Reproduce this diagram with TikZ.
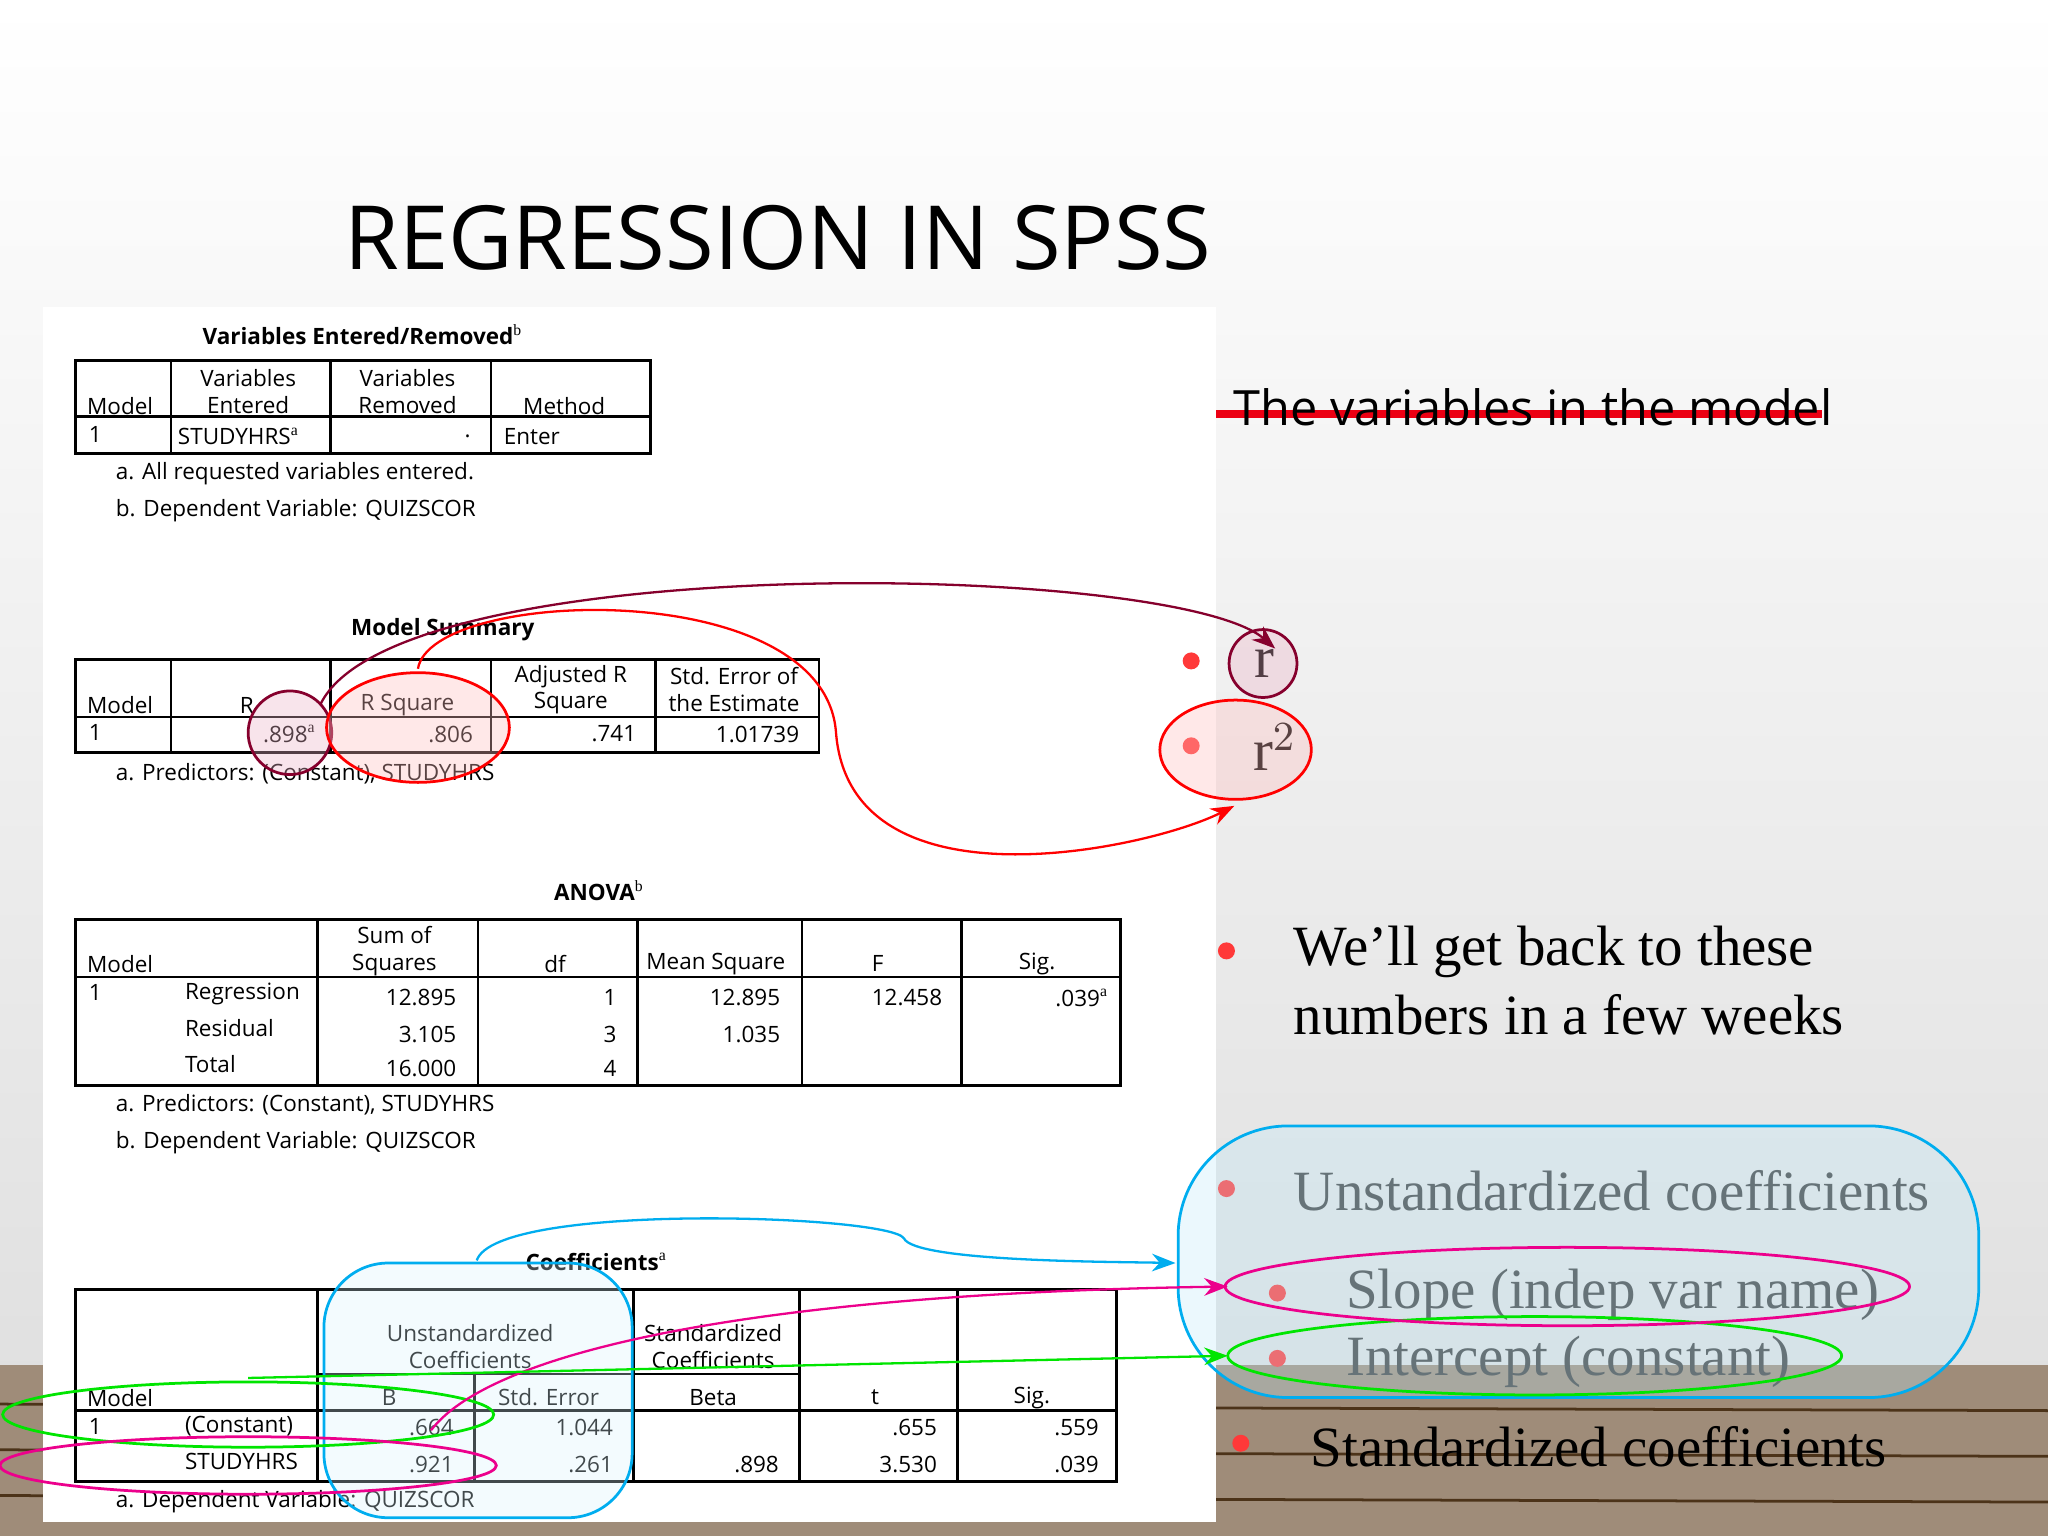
\documentclass[tikz,border=0pt]{standalone}
\usepackage{fontspec}
\setmainfont{Liberation Serif}
\newfontfamily\sans{Open Sans}
\usetikzlibrary{arrows.meta,shapes.geometric}
\begin{document}
\begin{tikzpicture}[x=0.1mm,y=-0.1mm,
 tb/.style={font=\sans\fontsize{4.9}{5.8}\selectfont,inner sep=0pt},
 bul/.style={circle,fill=red!70!pink,inner sep=0pt,minimum size=1.3mm},
 rt/.style={font=\fontsize{12.4}{15}\selectfont,inner sep=0pt,anchor=west},
 arr/.style={line width=0.5pt,-{Stealth[length=1.8mm]}}]
\useasboundingbox (0,0) rectangle (1568,1176);
\shade[top color=white,bottom color=black!12] (0,0) rectangle (1568,1045);
\fill[brown!50!black!60] (0,1045) rectangle (1568,1176);
\foreach \y in {1075,1110,1145} \draw[brown!40!black,line width=0.6pt] (0,\y) -- (1568,\y+5);
\node[font=\sans\fontsize{19.3}{23}\selectfont,anchor=west,inner sep=0pt] (title) at (263,182) {REGRESSION IN SPSS};
\fill[white] (33,235) rectangle (931,1165);
% table 1
\node[tb,font=\sans\bfseries\fontsize{4.9}{5.8}\selectfont] (t1) at (278,256) {Variables Entered/Removed$^{\mathrm b}$};
\draw[line width=0.6pt] (58,276) rectangle (498,347) (58,319) -- (498,319) (131,276)--(131,347) (253,276)--(253,347) (376,276)--(376,347);
\node[tb] (a1) at (92,311) {Model};
\node[tb,align=center] (a2) at (190,300) {Variables\\Entered};
\node[tb,align=center] (a3) at (312,300) {Variables\\Removed};
\node[tb] (a4) at (432,311) {Method};
\node[tb] (a5) at (73,333) {1};
\node[tb] (a6) at (183,334) {STUDYHRS$^{\mathrm a}$};
\node[tb] (a7) at (358,334) {.};
\node[tb,anchor=west] (a8) at (385,334) {Enter};
\node[tb,anchor=west] (a9) at (88,363) {a. All requested variables entered.};
\node[tb,anchor=west] (a10) at (88,391) {b. Dependent Variable: QUIZSCOR};
% table 2
\node[tb,font=\sans\bfseries\fontsize{4.9}{5.8}\selectfont] (t2) at (339,482) {Model Summary};
\draw[line width=0.6pt] (58,505) rectangle (627,576) (58,549) -- (627,549) (131,505)--(131,576) (253,505)--(253,576) (376,505)--(376,576) (502,505)--(502,576);
\node[tb] (b1) at (92,540) {Model};
\node[tb] (b2) at (189,540) {R};
\node[tb] (b3) at (312,540) {R Square};
\node[tb,align=center] (b4) at (437,528) {Adjusted R\\Square};
\node[tb,align=center] (b5) at (562,528) {Std. Error of\\the Estimate};
\node[tb] (b6) at (73,561) {1};
\node[tb] (b7) at (222,562) {.898$^{\mathrm a}$};
\node[tb] (b8) at (345,562) {.806};
\node[tb] (b9) at (470,562) {.741};
\node[tb] (b10) at (580,562) {1.01739};
\node[tb,anchor=west] (b11) at (88,592) {a. Predictors: (Constant), STUDYHRS};
% table 3
\node[tb,font=\sans\bfseries\fontsize{4.9}{5.8}\selectfont] (t3) at (459,682) {ANOVA$^{\mathrm b}$};
\draw[line width=0.6pt] (58,704) rectangle (858,831) (58,748) -- (858,748);
\foreach \x in {243,366,488,614,736} \draw[line width=0.6pt] (\x,704)--(\x,831);
\node[tb] (c1) at (92,738) {Model};
\node[tb,align=center] (c2) at (302,728) {Sum of\\Squares};
\node[tb] (c3) at (425,738) {df};
\node[tb] (c4) at (548,738) {Mean Square};
\node[tb] (c5) at (672,738) {F};
\node[tb] (c6) at (794,738) {Sig.};
\node[tb] (c7) at (73,760) {1};
\node[tb,anchor=west] (c8) at (141,761) {Regression};
\node[tb,anchor=west] (c9) at (141,787) {Residual};
\node[tb,anchor=west] (c10) at (141,815) {Total};
\node[tb,anchor=east] (c11) at (350,764) {12.895};
\node[tb,anchor=east] (c12) at (350,792) {3.105};
\node[tb,anchor=east] (c13) at (350,818) {16.000};
\node[tb] (c14) at (467,764) {1};
\node[tb] (c15) at (467,792) {3};
\node[tb] (c16) at (467,818) {4};
\node[tb,anchor=east] (c17) at (598,764) {12.895};
\node[tb,anchor=east] (c18) at (598,792) {1.035};
\node[tb,anchor=east] (c19) at (722,764) {12.458};
\node[tb,anchor=east] (c20) at (850,764) {.039$^{\mathrm a}$};
\node[tb,anchor=west] (c21) at (88,846) {a. Predictors: (Constant), STUDYHRS};
\node[tb,anchor=west] (c22) at (88,875) {b. Dependent Variable: QUIZSCOR};
% table 4
\node[tb,font=\sans\bfseries\fontsize{4.9}{5.8}\selectfont] (t4) at (457,966) {Coefficients$^{\mathrm a}$};
\draw[line width=0.6pt] (58,987) rectangle (855,1134) (58,1080) -- (855,1080) (243,1052)--(612,1052);
\foreach \x in {243,485,612,733} \draw[line width=0.6pt] (\x,987)--(\x,1134);
\draw[line width=0.6pt] (363,1052)--(363,1134);
\node[tb] (d1) at (92,1070) {Model};
\node[tb,align=center] (d2) at (360,1031) {Unstandardized\\Coefficients};
\node[tb,align=center] (d3) at (546,1031) {Standardized\\Coefficients};
\node[tb] (d4) at (298,1070) {B};
\node[tb] (d5) at (420,1070) {Std. Error};
\node[tb] (d6) at (546,1070) {Beta};
\node[tb] (d7) at (670,1070) {t};
\node[tb] (d8) at (790,1070) {Sig.};
\node[tb] (d9) at (73,1092) {1};
\node[tb,anchor=west] (d10) at (141,1092) {(Constant)};
\node[tb,anchor=west] (d11) at (141,1119) {STUDYHRS};
\node[tb,anchor=east] (d12) at (348,1093) {.664};
\node[tb,anchor=east] (d13) at (348,1121) {.921};
\node[tb,anchor=east] (d14) at (470,1093) {1.044};
\node[tb,anchor=east] (d15) at (470,1121) {.261};
\node[tb,anchor=east] (d16) at (597,1121) {.898};
\node[tb,anchor=east] (d17) at (718,1093) {.655};
\node[tb,anchor=east] (d18) at (718,1121) {3.530};
\node[tb,anchor=east] (d19) at (842,1093) {.559};
\node[tb,anchor=east] (d20) at (842,1121) {.039};
\node[tb,anchor=west] (d21) at (88,1150) {a. Dependent Variable: QUIZSCOR};
% right side text
\draw[red!70!purple,line width=1.8pt] (931,317) -- (1395,317);
\node[font=\sans\fontsize{10.6}{13}\selectfont,anchor=west,inner sep=0pt] (v) at (944,312) {The variables in the model};
\node[bul] (p1) at (912,506) {};
\node[bul] (p2) at (912,571) {};
\node[font=\fontsize{13}{16}\selectfont,inner sep=0pt] (r) at (968,508) {r};
\node[font=\fontsize{13}{16}\selectfont,inner sep=0pt] (r2) at (976,572) {r$^2$};
\node[bul] (p3) at (939,728) {};
\node[rt,align=left,anchor=north west] (w) at (990,708) {We’ll get back to these\\numbers in a few weeks};
\node[bul] (p4) at (939,910) {};
\node[rt,text=black!75] (u) at (990,912) {Unstandardized coefficients};
\node[bul] (p5) at (978,990) {};
\node[rt,text=black!75] (s) at (1030,991) {Slope (indep var name)};
\node[bul] (p6) at (978,1040) {};
\node[rt,text=black!75] (i) at (1030,1043) {Intercept (constant)};
\node[bul] (p7) at (950,1105) {};
\node[rt] (st) at (1003,1108) {Standardized coefficients};
% highlights
\draw[purple!70!black,fill=purple!30,fill opacity=0.35,line width=0.6pt] (222,561) circle [radius=32];
\draw[red,fill=pink,fill opacity=0.35,line width=0.6pt] (320,557) ellipse [x radius=70,y radius=42];
\draw[purple!70!black,fill=purple!30,fill opacity=0.35,line width=0.6pt] (967,508) circle [radius=26];
\draw[red,fill=pink,fill opacity=0.35,line width=0.6pt] (946,574) ellipse [x radius=58,y radius=38];
\draw[cyan,fill=cyan!15,fill opacity=0.3,rounded corners=14,line width=0.6pt] (248,967) rectangle (484,1162);
\draw[cyan,fill=cyan!25,fill opacity=0.3,rounded corners=24,line width=0.6pt] (902,862) rectangle (1515,1070);
\draw[green!90!black,line width=0.6pt] (190,1083) ellipse [x radius=188,y radius=25];
\draw[green!90!black,line width=0.6pt] (1175,1038) ellipse [x radius=235,y radius=30];
\draw[magenta,line width=0.6pt] (190,1122) ellipse [x radius=190,y radius=22];
\draw[magenta,line width=0.6pt] (1200,985) ellipse [x radius=262,y radius=30];
\coordinate (pa) at (245,540); \coordinate (ra) at (320,512); \coordinate (ca) at (365,965);
\coordinate (ma) at (330,1095); \coordinate (ga) at (190,1055);
\draw[arr,purple!70!black] (pa) .. controls (300,420) and (900,430) .. (r.north east);
\draw[arr,red] (ra) .. controls (330,450) and (630,440) .. (640,560) .. controls (650,700) and (880,650) .. (945,617);
\draw[arr,cyan] (ca) .. controls (380,920) and (680,930) .. (692,948) .. controls (700,966) and (850,966) .. (900,967);
\draw[arr,magenta] (ma) .. controls (380,1030) and (600,990) .. (940,985);
\draw[arr,green!90!black] (ga) -- (940,1038);
\end{tikzpicture}
\end{document}
